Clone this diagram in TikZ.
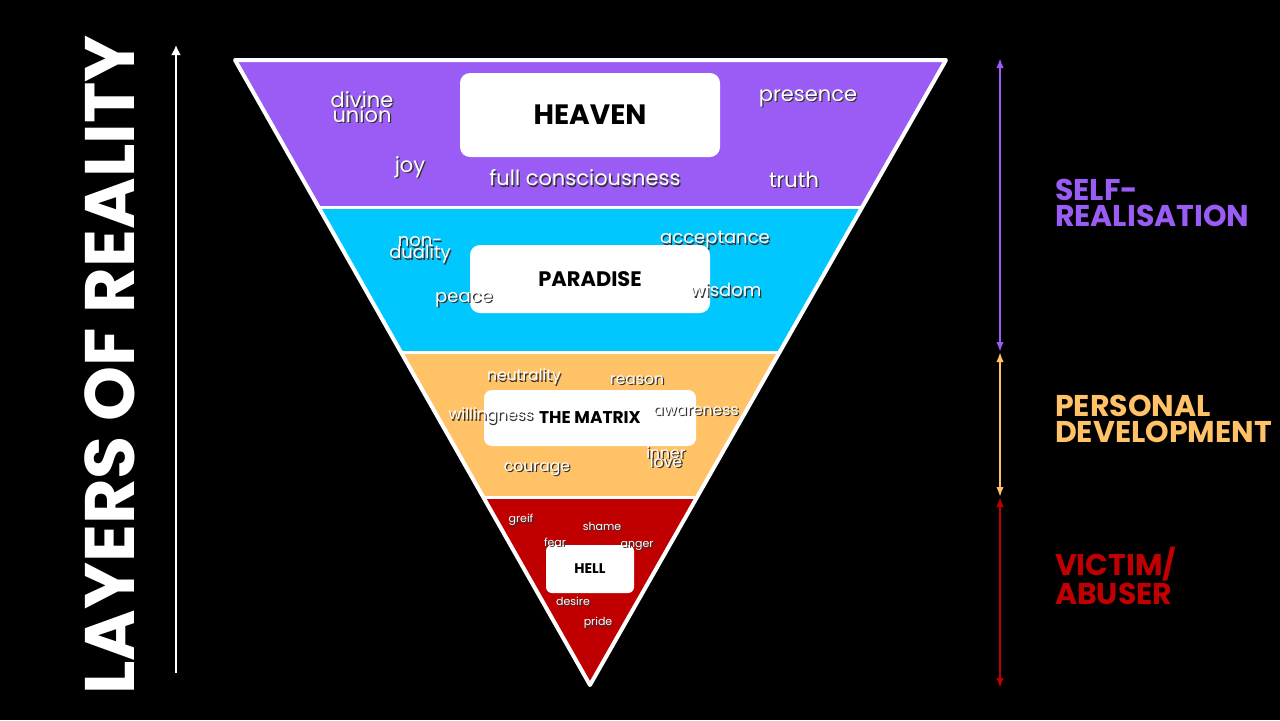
\documentclass[tikz,border=0pt]{standalone}
\usepackage{fontspec}
\usetikzlibrary{arrows.meta}
\setmainfont{Poppins}
\definecolor{pur}{HTML}{9A5CF5}
\definecolor{cya}{HTML}{00C8FF}
\definecolor{ora}{HTML}{FFC266}
\definecolor{redd}{HTML}{C00000}
\newcommand\wl[4]{\node[text=black!80,font=\fontsize{#2}{#2}\selectfont,align=center] at ([shift={(1.3,1.3)}]#1) {#3};
\node[text=white,font=\fontsize{#2}{#2}\selectfont,align=center] (#4) at (#1) {#3};}
\tikzset{box/.style={fill=white,rounded corners=5pt,text=black,font=\bfseries,inner sep=0pt},
 side/.style={font=\bfseries\fontsize{15}{13}\selectfont,align=left,anchor=west}}
\begin{document}
\begin{tikzpicture}[x=0.5pt,y=-0.5pt]
\fill[black] (0,0) rectangle (1280,720);
\useasboundingbox (0,0) rectangle (1280,720);
\coordinate (A) at (235,60); \coordinate (B) at (946,60); \coordinate (C) at (590,685);
\coordinate (L1) at (318.5,207); \coordinate (R1) at (862,207);
\coordinate (L2) at (400.8,352); \coordinate (R2) at (779.7,352);
\coordinate (L3) at (483,497); \coordinate (R3) at (697,497);
\fill[pur] (A)--(B)--(R1)--(L1)--cycle;
\fill[cya] (L1)--(R1)--(R2)--(L2)--cycle;
\fill[ora] (L2)--(R2)--(R3)--(L3)--cycle;
\fill[redd] (L3)--(R3)--(C)--cycle;
\draw[white,line width=1.5pt] (L1)--(R1) (L2)--(R2) (L3)--(R3);
\draw[white,line width=2pt,line join=round] (A)--(B)--(C)--cycle;
% titles
\node[box,minimum width=130,minimum height=42,font=\bfseries\fontsize{14}{14}\selectfont] (heaven) at (590,115) {HEAVEN};
\node[box,minimum width=120,minimum height=34,font=\bfseries\fontsize{10.5}{10}\selectfont] (paradise) at (590,279) {PARADISE};
\node[box,minimum width=106,minimum height=28,font=\bfseries\fontsize{8.5}{8}\selectfont,rounded corners=4pt] (matrix) at (590,418) {THE MATRIX};
\node[box,minimum width=44,minimum height=24,font=\bfseries\fontsize{7}{7}\selectfont,rounded corners=3pt] (hell) at (590,569) {HELL};
% words
\wl{362,107}{10.5}{divine\\[-3pt]union}{w1}
\wl{410,167}{10.5}{joy}{w2}
\wl{585,178}{10.5}{full consciousness}{w3}
\wl{808,98}{10.5}{presence}{w4}
\wl{794,180}{10.5}{truth}{w5}
\wl{420,250}{9}{non-\\[-3pt]duality}{w6}
\wl{464,300}{9}{peace}{w7}
\wl{715,240}{9}{acceptance}{w8}
\wl{726,290}{9}{wisdom}{w9}
\wl{524,377}{7.8}{neutrality}{w10}
\wl{637,380}{7.8}{reason}{w11}
\wl{491,416}{7.8}{willingness}{w12}
\wl{696,411}{7.8}{awareness}{w13}
\wl{666,457}{7.8}{inner\\[-3pt]love}{w14}
\wl{537,469}{7.8}{courage}{w15}
\wl{521,520}{5.5}{greif}{w16}
\wl{602,526}{5.5}{shame}{w17}
\wl{555,542}{5.5}{fear}{w18}
\wl{637,546}{5.5}{anger}{w19}
\wl{573,601}{5.5}{desire}{w20}
\wl{598,623}{5.5}{pride}{w21}
% left
\coordinate (lb) at (176,673); \coordinate (lt) at (176,45);
\draw[white,line width=1.2pt,-{Latex[length=5pt,width=5pt]}] (lb)--(lt);
\node[white,rotate=90,font=\bfseries\fontsize{35}{35}\selectfont] (title) at (110,365) {LAYERS OF REALITY};
% right
\coordinate (r0) at (1000,58); \coordinate (r1) at (1000,352);
\coordinate (r2) at (1000,497); \coordinate (r3) at (1000,688);
\draw[pur,line width=1.2pt,{Latex[length=5pt]}-{Latex[length=5pt]}] (r0)--(r1);
\draw[ora,line width=1.2pt,{Latex[length=5pt]}-{Latex[length=5pt]}] (r1)--(r2);
\draw[redd,line width=1.2pt,{Latex[length=5pt]}-{Latex[length=5pt]}] (r2)--(r3);
\node[side,text=pur] (s1) at (1048,203) {SELF-\\REALISATION};
\node[side,text=ora] (s2) at (1048,419) {PERSONAL\\DEVELOPMENT};
\node[side,text=redd] (s3) at (1048,576) {VICTIM/\\ABUSER};
\end{tikzpicture}
\end{document}
